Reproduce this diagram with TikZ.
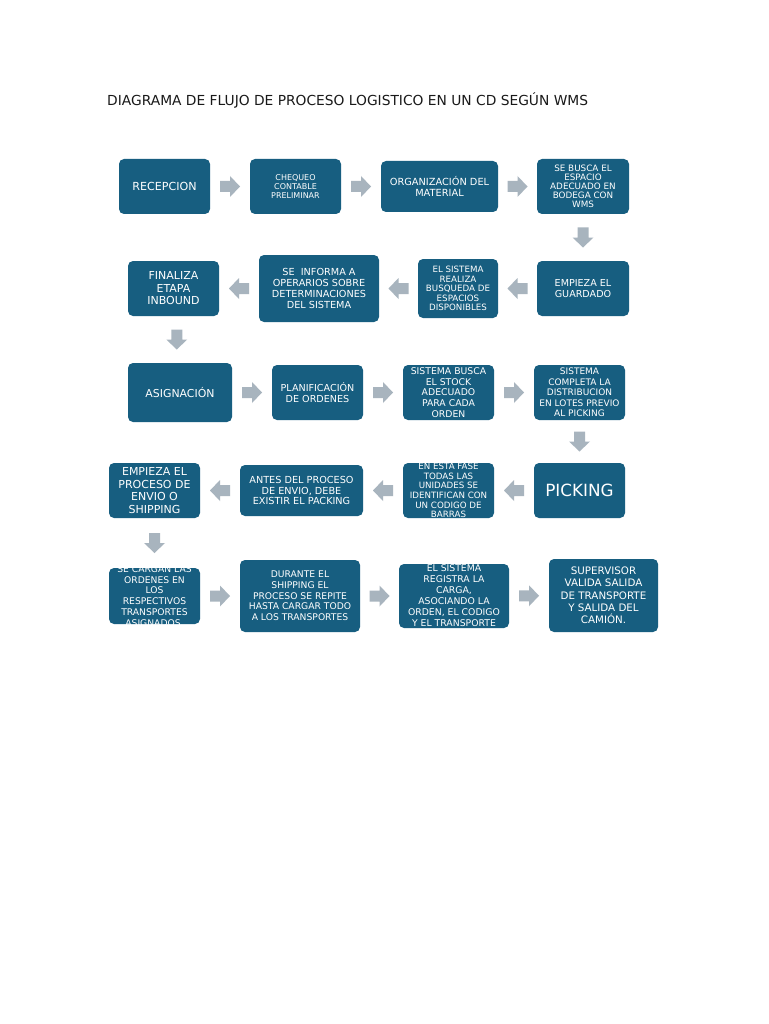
\documentclass[tikz,border=0pt]{standalone}
\usepackage{fontspec}
\setmainfont{DejaVu Sans}
\usetikzlibrary{calc}
\definecolor{boxblue}{RGB}{23,94,128}
\definecolor{arrowgray}{RGB}{168,180,190}
\definecolor{titlegray}{RGB}{25,25,25}
\newcommand\fs[2]{\fontsize{#1}{#2}\selectfont}
\tikzset{
  stage/.style={fill=boxblue, rounded corners=5pt, inner sep=0pt, draw=none},
  stagetext/.style={text=white, align=center, inner sep=0pt},
  barrow/.pic={\fill[arrowgray] (-10,-5.5) -- (0,-5.5) -- (0,-10.5) -- (10,0) -- (0,10.5) -- (0,5.5) -- (-10,5.5) -- cycle;}
}
% name, x, y, w, h, fontsize, leading, text
\newcommand\stagebox[8]{%
  \node[stage, minimum width=#4pt, minimum height=#5pt] (#1) at (#2,-#3) {};
  \node[stagetext, font=\fs{#6}{#7}] (#1t) at (#1) {#8};
}
\begin{document}
\begin{tikzpicture}[x=1pt,y=1pt]
\useasboundingbox (0,0) rectangle (768,-1024);
\fill[white] (0,0) rectangle (768,-1024);

\node[anchor=west, inner sep=0pt, font=\fs{13.8}{16}, text=titlegray] (title) at (107,-100) {DIAGRAMA DE FLUJO DE PROCESO LOGISTICO EN UN CD SEGÚN WMS};

% Row 1
\stagebox{r11}{164.5}{186.5}{91}{55}{11.1}{13}{RECEPCION}
\stagebox{r12}{295.5}{186.5}{91}{55}{8}{8.9}{CHEQUEO\\CONTABLE\\PRELIMINAR}
\stagebox{r13}{439.5}{186.5}{117}{51}{9.8}{11.7}{ORGANIZACIÓN DEL\\MATERIAL}
\stagebox{r14}{583}{186.5}{92}{55}{8.8}{9.1}{SE BUSCA EL\\ESPACIO\\ADECUADO EN\\BODEGA CON\\WMS}

% Row 2
\stagebox{r21}{173.5}{288.5}{91}{55}{11}{12.5}{FINALIZA\\ETAPA\\INBOUND}
\stagebox{r22}{319}{288.5}{120}{67}{9.7}{11.2}{SE\ \ INFORMA A\\OPERARIOS SOBRE\\DETERMINACIONES\\DEL SISTEMA}
\stagebox{r23}{458}{288.5}{80}{59}{8.7}{9.4}{EL SISTEMA\\REALIZA\\BUSQUEDA DE\\ESPACIOS\\DISPONIBLES}
\stagebox{r24}{583}{288.5}{92}{55}{9.6}{11}{EMPIEZA EL\\GUARDADO}

% Row 3
\stagebox{r31}{180}{392.5}{104}{59}{10.9}{13}{ASIGNACIÓN}
\stagebox{r32}{317.5}{392.5}{91}{55}{9.6}{11}{PLANIFICACIÓN\\DE ORDENES}
\stagebox{r33}{448.5}{392.5}{91}{55}{9.3}{10.8}{SISTEMA BUSCA\\EL STOCK\\ADECUADO\\PARA CADA\\ORDEN}
\stagebox{r34}{579.5}{392.5}{91}{55}{9}{10.4}{SISTEMA\\COMPLETA LA\\DISTRIBUCION\\EN LOTES PREVIO\\AL PICKING}

% Row 4
\stagebox{r41}{154.5}{490.5}{91}{55}{11}{12.4}{EMPIEZA EL\\PROCESO DE\\ENVIO O\\SHIPPING}
\stagebox{r42}{301.5}{490.5}{123}{51}{9.7}{10.7}{ANTES DEL PROCESO\\DE ENVIO, DEBE\\EXISTIR EL PACKING}
\stagebox{r43}{448.5}{490.5}{91}{55}{8.7}{9.7}{EN ESTA FASE\\TODAS LAS\\UNIDADES SE\\IDENTIFICAN CON\\UN CODIGO DE\\BARRAS}
\stagebox{r44}{579.5}{490.5}{91}{55}{16.8}{19}{PICKING}

% Row 5
\stagebox{r51}{154.5}{596}{91}{56}{9.2}{10.8}{SE CARGAN LAS\\ORDENES EN\\LOS\\RESPECTIVOS\\TRANSPORTES\\ASIGNADOS.}
\stagebox{r52}{300}{596}{120}{72}{9.2}{10.7}{DURANTE EL\\SHIPPING EL\\PROCESO SE REPITE\\HASTA CARGAR TODO\\A LOS TRANSPORTES}
\stagebox{r53}{454}{596}{110}{64}{9.3}{11}{EL SISTEMA\\REGISTRA LA\\CARGA,\\ASOCIANDO LA\\ORDEN, EL CODIGO\\Y EL TRANSPORTE}
\stagebox{r54}{603.5}{595.5}{109}{73}{10.3}{12.3}{SUPERVISOR\\VALIDA SALIDA\\DE TRANSPORTE\\Y SALIDA DEL\\CAMIÓN.}

% Arrows row 1 (right)
\pic at ($(r11.east)!0.5!(r12.west)$) {barrow};
\pic at ($(r12.east)!0.5!(r13.west)$) {barrow};
\pic at ($(r13.east)!0.5!(r14.west)$) {barrow};
\pic[rotate=-90] at ($(r14.south)!0.5!(r24.north)$) {barrow};
% Row 2 (left)
\pic[rotate=180] at ($(r24.west)!0.5!(r23.east)$) {barrow};
\pic[rotate=180] at ($(r23.west)!0.5!(r22.east)$) {barrow};
\pic[rotate=180] at ($(r22.west)!0.5!(r21.east)$) {barrow};
\pic[rotate=-90] at ($(r21.south)!0.5!(r31.north)$) {barrow};
% Row 3 (right)
\pic at ($(r31.east)!0.5!(r32.west)$) {barrow};
\pic at ($(r32.east)!0.5!(r33.west)$) {barrow};
\pic at ($(r33.east)!0.5!(r34.west)$) {barrow};
\pic[rotate=-90] at ($(r34.south)!0.5!(r44.north)$) {barrow};
% Row 4 (left)
\pic[rotate=180] at ($(r44.west)!0.5!(r43.east)$) {barrow};
\pic[rotate=180] at ($(r43.west)!0.5!(r42.east)$) {barrow};
\pic[rotate=180] at ($(r42.west)!0.5!(r41.east)$) {barrow};
\pic[rotate=-90] at ($(r41.south)!0.5!(r51.north)$) {barrow};
% Row 5 (right)
\pic at ($(r51.east)!0.5!(r52.west)$) {barrow};
\pic at ($(r52.east)!0.5!(r53.west)$) {barrow};
\pic at ($(r53.east)!0.5!(r54.west)$) {barrow};
\end{tikzpicture}
\end{document}
